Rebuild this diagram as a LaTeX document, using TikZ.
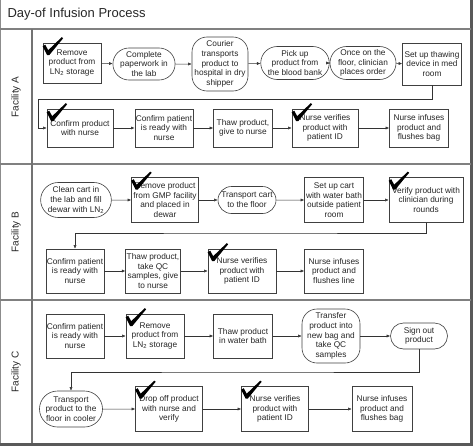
\documentclass[tikz,border=0pt]{standalone}
\usepackage{fontspec}
\setmainfont{Liberation Sans}
\usetikzlibrary{arrows.meta,shapes.misc}

\tikzset{
  proc/.style={draw=black!75, line width=0.6pt, fill=white, align=center,
    inner sep=1pt, text=black!85, font=\fontsize{8.3}{9.7}\selectfont},
  term/.style={proc, rounded rectangle},
  tallterm/.style={proc, rectangle, rounded corners=15pt},
  arr/.style={draw=black!80, line width=0.5pt, -{Latex[length=3.5pt,width=3pt]}},
  lane/.style={draw=black!50, line width=1.4pt},
  lanelabel/.style={rotate=90, font=\fontsize{10}{12}\selectfont, text=black!85}
}

% heavy tick at the top left corner of a node
\newcommand{\donemark}[1]{%
  \fill[black] ([shift={(0,3.5)}]#1.north west) -- ++(2.5,-1.5) -- ++(3,5.5)
    -- ++(13.5,-13) -- ++(1.5,1) -- ++(-14,17) -- ++(-2,0) -- cycle;}

\begin{document}
\begin{tikzpicture}[x=1pt, y=-1pt]
  \useasboundingbox (0,0) rectangle (474,447);

  % Frame and swim lanes
  \draw[draw=black!45, line width=0.8pt] (0.5,0) -- (0.5,445);
  \draw[draw=black!65, line width=2.5pt] (471.5,0) -- (471.5,445.7);
  \draw[draw=black!65, line width=2.5pt] (0,444.5) -- (472.7,444.5);
  \draw[lane] (0,29) -- (471,29);
  \draw[lane] (0,164) -- (471,164);
  \draw[lane] (0,300) -- (471,300);
  \draw[draw=black!55, line width=1.1pt] (32,29) -- (32,443);
  \node[anchor=west, font=\fontsize{13}{15}\selectfont, text=black!85] (title) at (4,14) {Day-of Infusion Process};
  \node[lanelabel] (laneA) at (16,97) {Facility A};
  \node[lanelabel] (laneB) at (16,232) {Facility B};
  \node[lanelabel] (laneC) at (16,372) {Facility C};

  % Facility A
  \node[proc, minimum width=58pt, minimum height=40pt] (a1) at (72,63) {Remove\\product from\\LN\textsubscript{2} storage};
  \node[term, minimum width=59pt, minimum height=32pt] (a2) at (144,64) {Complete\\paperwork in\\the lab};
  \node[tallterm, minimum width=56pt, minimum height=54pt] (a3) at (220,64) {Courier\\transports\\product to\\hospital in dry\\shipper};
  \node[term, minimum width=60pt, minimum height=33pt] (a4) at (295,63) {Pick up\\product from\\the blood bank};
  \node[term, minimum width=60pt, minimum height=33pt] (a5) at (363,63) {Once on the\\floor, clinician\\places order};
  \node[proc, minimum width=59pt, minimum height=42pt] (a6) at (432,64) {Set up thawing\\device in med\\room};
  \node[proc, minimum width=66pt, minimum height=38pt] (a7) at (80,128) {Confirm product\\with nurse};
  \node[proc, minimum width=58pt, minimum height=38pt] (a8) at (164,128) {Confirm patient\\is ready with\\nurse};
  \node[proc, minimum width=59pt, minimum height=38pt] (a9) at (243,128) {Thaw product,\\give to nurse};
  \node[proc, minimum width=66pt, minimum height=38pt] (a10) at (325,128) {Nurse verifies\\product with\\patient ID};
  \node[proc, minimum width=59pt, minimum height=38pt] (a11) at (419,128) {Nurse infuses\\product and\\flushes bag};
  \coordinate (ra) at (38,99);
  \draw[arr] (a1) -- (a2);
  \draw[arr] (a2) -- (a3);
  \draw[arr] (a3) -- (a4);
  \draw[arr] (a4) -- (a5);
  \draw[arr] (a5) -- (a6);
  \draw[arr] (a6.south) |- (ra) |- (a7.west);
  \draw[arr] (a7) -- (a8);
  \draw[arr] (a8) -- (a9);
  \draw[arr] (a9) -- (a10);
  \draw[arr] (a10) -- (a11);

  % Facility B
  \node[term, minimum width=58pt, minimum height=35pt] (b1) at (76,200) {Clean cart in\\the lab and fill\\dewar with LN\textsubscript{2}};
  \node[proc, minimum width=67pt, minimum height=45pt] (b2) at (165,200) {Remove product\\from GMP facility\\and placed in\\dewar};
  \node[term, minimum width=60pt, minimum height=27pt] (b3) at (247,200) {Transport cart\\to the floor};
  \node[proc, minimum width=59pt, minimum height=45pt] (b4) at (334,200) {Set up cart\\with water bath\\outside patient\\room};
  \node[proc, minimum width=74pt, minimum height=45pt] (b5) at (426,200) {Verify product with\\clinician during\\rounds};
  \node[proc, minimum width=58pt, minimum height=44pt] (b6) at (75,271) {Confirm patient\\is ready with\\nurse};
  \node[proc, minimum width=54pt, minimum height=44pt] (b7) at (153,271) {Thaw product,\\take QC\\samples, give\\to nurse};
  \node[proc, minimum width=68pt, minimum height=44pt] (b8) at (242,271) {Nurse verifies\\product with\\patient ID};
  \node[proc, minimum width=59pt, minimum height=44pt] (b9) at (334,271) {Nurse infuses\\product and\\flushes line};
  \coordinate (rb) at (250,233);
  \draw[arr] (b1) -- (b2);
  \draw[arr] (b2) -- (b3);
  \draw[arr] (b3) -- (b4);
  \draw[arr] (b4) -- (b5);
  \draw[arr] (b5.south) |- (rb) -| (b6.north);
  \draw[arr] (b6) -- (b7);
  \draw[arr] (b7) -- (b8);
  \draw[arr] (b8) -- (b9);

  % Facility C
  \node[proc, minimum width=58pt, minimum height=44pt] (c1) at (75,336) {Confirm patient\\is ready with\\nurse};
  \node[proc, minimum width=58pt, minimum height=44pt] (c2) at (155,336) {Remove\\product from\\LN\textsubscript{2} storage};
  \node[proc, minimum width=59pt, minimum height=44pt] (c3) at (243,336) {Thaw product\\in water bath};
  \node[tallterm, minimum width=58pt, minimum height=54pt] (c4) at (331,336) {Transfer\\product into\\new bag and\\take QC\\samples};
  \node[term, minimum width=59pt, minimum height=26pt] (c5) at (419,336) {Sign out\\product};
  \node[term, minimum width=58pt, minimum height=36pt] (c6) at (71,409) {Transport\\product to the\\floor in cooler};
  \node[proc, minimum width=67pt, minimum height=45pt] (c7) at (169,409) {Drop off product\\with nurse and\\verify};
  \node[proc, minimum width=67pt, minimum height=45pt] (c8) at (275,409) {Nurse verifies\\product with\\patient ID};
  \node[proc, minimum width=60pt, minimum height=45pt] (c9) at (382,409) {Nurse infuses\\product and\\flushes bag};
  \coordinate (rc) at (250,372);
  \draw[arr] (c1) -- (c2);
  \draw[arr] (c2) -- (c3);
  \draw[arr] (c3) -- (c4);
  \draw[arr] (c4) -- (c5);
  \draw[arr] (c5.south) |- (rc) -| (c6.north);
  \draw[arr] (c6) -- (c7);
  \draw[arr] (c7) -- (c8);
  \draw[arr] (c8) -- (c9);

  % Ticks on checked steps
  \donemark{a1}
  \donemark{a7}
  \donemark{a10}
  \donemark{b2}
  \donemark{b5}
  \donemark{b8}
  \donemark{c2}
  \donemark{c7}
  \donemark{c8}
\end{tikzpicture}
\end{document}
